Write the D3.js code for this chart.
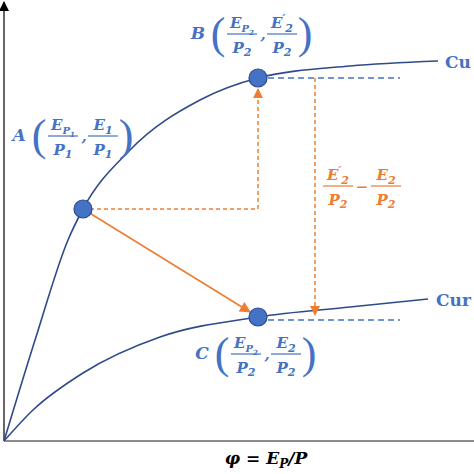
<!DOCTYPE html>
<html><head><meta charset="utf-8">
<script src="https://cdn.jsdelivr.net/npm/d3@7"></script>
<style>body{margin:0;background:#fff}</style>
</head><body>
<svg id="chart" width="474" height="474"></svg>
<script>
// curves (units ~ pixels from origin)
const curve1 = [[0,0],[32,104],[64,201],[79,232],[126,291],[196,341],[254,363],[346,375],[434,380]];
const curve2 = [[0,0],[29,31],[79,68],[156,104],[254,124],[346,134],[424,142]];
const pointA = [79,232], pointB = [254,363], pointC = [254,124];
const dashEndX = 396, diffX = 311;

const blue = "#4472C4", navy = "#2F4A8A", orange = "#ED7D31";
const svg = d3.select("#chart");
const x = d3.scaleLinear().domain([0,470]).range([4,474]);
const y = d3.scaleLinear().domain([0,441]).range([441,0]);
const line = d3.line().x(d => x(d[0])).y(d => y(d[1])).curve(d3.curveMonotoneX);

const defs = svg.append("defs");
function marker(id, color) {
  defs.append("marker").attr("id", id).attr("viewBox", "0 0 10 10").attr("refX", 9).attr("refY", 5)
    .attr("markerWidth", 7).attr("markerHeight", 7).attr("orient", "auto-start-reverse")
    .append("path").attr("d", "M0,0L10,5L0,10z").attr("fill", color);
}
marker("arO", orange); marker("arK", "#000");

// axes
svg.append("line").attr("x1", x(0)).attr("y1", y(0)).attr("x2", 474).attr("y2", y(0)).attr("stroke", "#666").attr("stroke-width", 1.5);
svg.append("line").attr("x1", x(0)).attr("y1", y(0)).attr("x2", x(0)).attr("y2", 2).attr("stroke", "#333").attr("stroke-width", 1.5).attr("marker-end", "url(#arK)");

[curve1, curve2].forEach(c => svg.append("path").datum(c).attr("d", line).attr("fill", "none").attr("stroke", navy).attr("stroke-width", 1.6));

// dashed guides
svg.append("line").attr("x1", x(pointB[0])).attr("x2", x(dashEndX)).attr("y1", y(pointB[1])).attr("y2", y(pointB[1])).attr("stroke", blue).attr("stroke-width", 1.5).attr("stroke-dasharray", "6,4");
svg.append("line").attr("x1", x(pointC[0])).attr("x2", x(dashEndX)).attr("y1", y(pointC[1]) + 3).attr("y2", y(pointC[1]) + 3).attr("stroke", blue).attr("stroke-width", 1.5).attr("stroke-dasharray", "6,4");
svg.append("path").attr("d", `M${x(pointA[0])},${y(pointA[1])}H${x(pointB[0])}V${y(pointB[1]) + 11}`)
  .attr("fill", "none").attr("stroke", orange).attr("stroke-width", 1.5).attr("stroke-dasharray", "4,3").attr("marker-end", "url(#arO)");
svg.append("line").attr("x1", x(diffX)).attr("x2", x(diffX)).attr("y1", y(pointB[1])).attr("y2", y(pointC[1]) - 2)
  .attr("stroke", orange).attr("stroke-width", 1.5).attr("stroke-dasharray", "4,3").attr("marker-end", "url(#arO)");
svg.append("line").attr("x1", x(pointA[0])).attr("y1", y(pointA[1])).attr("x2", x(pointC[0]) - 8).attr("y2", y(pointC[1]) - 5)
  .attr("stroke", orange).attr("stroke-width", 1.6).attr("marker-end", "url(#arO)");

svg.selectAll("circle.pt").data([pointA, pointB, pointC]).join("circle")
  .attr("cx", d => x(d[0])).attr("cy", d => y(d[1])).attr("r", 9).attr("fill", blue).attr("stroke", navy).attr("stroke-width", 1.2);

// text helpers
const font = "'DejaVu Serif', serif";
function txt(g, px, py, parts, size, color, anchor) {
  const t = g.append("text").attr("x", px).attr("y", py).attr("font-family", font).attr("font-weight", "bold")
    .attr("font-style", "italic").attr("font-size", size).attr("fill", color).attr("text-anchor", anchor || "middle");
  parts.forEach(p => t.append("tspan").attr("dy", p[1] || 0).attr("font-size", p[2] || size).text(p[0]));
  return t;
}
function frac(cx, top, num, den, color) {
  txt(svg, cx, top + 14, num, 15, color);
  svg.append("line").attr("x1", cx - 15).attr("x2", cx + 15).attr("y1", top + 20).attr("y2", top + 20).attr("stroke", color).attr("stroke-width", 1.2);
  txt(svg, cx, top + 39, den, 15, color);
}
const EP = s => [["E"], ["P", 4, 10], [s, 3, 7]];
const Pn = s => [["P"], [s, 3, 11]];
const En = (s, prime) => [["E"], [prime ? "′" : "", -6, 11], [s, prime ? 10 : 4, 11]];
function paren(px, top, ch) {
  svg.append("text").attr("x", px).attr("y", top + 34).attr("font-family", "'Liberation Serif', serif")
    .attr("font-size", 44).attr("fill", blue).attr("text-anchor", "middle").text(ch);
}
function pointLabel(lx, top, letter, f1, f2) {
  txt(svg, lx - 6, top + 25, [[letter]], 17, blue);
  paren(lx + 14, top, "(");
  frac(lx + 38, top, f1[0], f1[1], blue);
  txt(svg, lx + 59, top + 25, [[","]], 15, blue);
  frac(lx + 78, top, f2[0], f2[1], blue);
  paren(lx + 101, top, ")");
}
pointLabel(25, 116, "A", [EP("1"), Pn("1")], [En("1"), Pn("1")]);
pointLabel(204, 14, "B", [EP("2"), Pn("2")], [En("2", true), Pn("2")]);
pointLabel(208, 334, "C", [EP("2"), Pn("2")], [En("2"), Pn("2")]);

frac(338, 166, En("2", true), Pn("2"), orange);
txt(svg, 362, 192, [["−"]], 15, orange).attr("font-style", "normal");
frac(386, 166, En("2"), Pn("2"), orange);

txt(svg, 445, 68, [["Cu"]], 17, blue, "start").attr("font-style", "normal");
txt(svg, 436, 306, [["Cur"]], 17, blue, "start").attr("font-style", "normal");
txt(svg, 266, 464, [["φ = E"], ["P", 4, 12], ["/P", -4]], 17, "#000");
</script>
</body></html>
